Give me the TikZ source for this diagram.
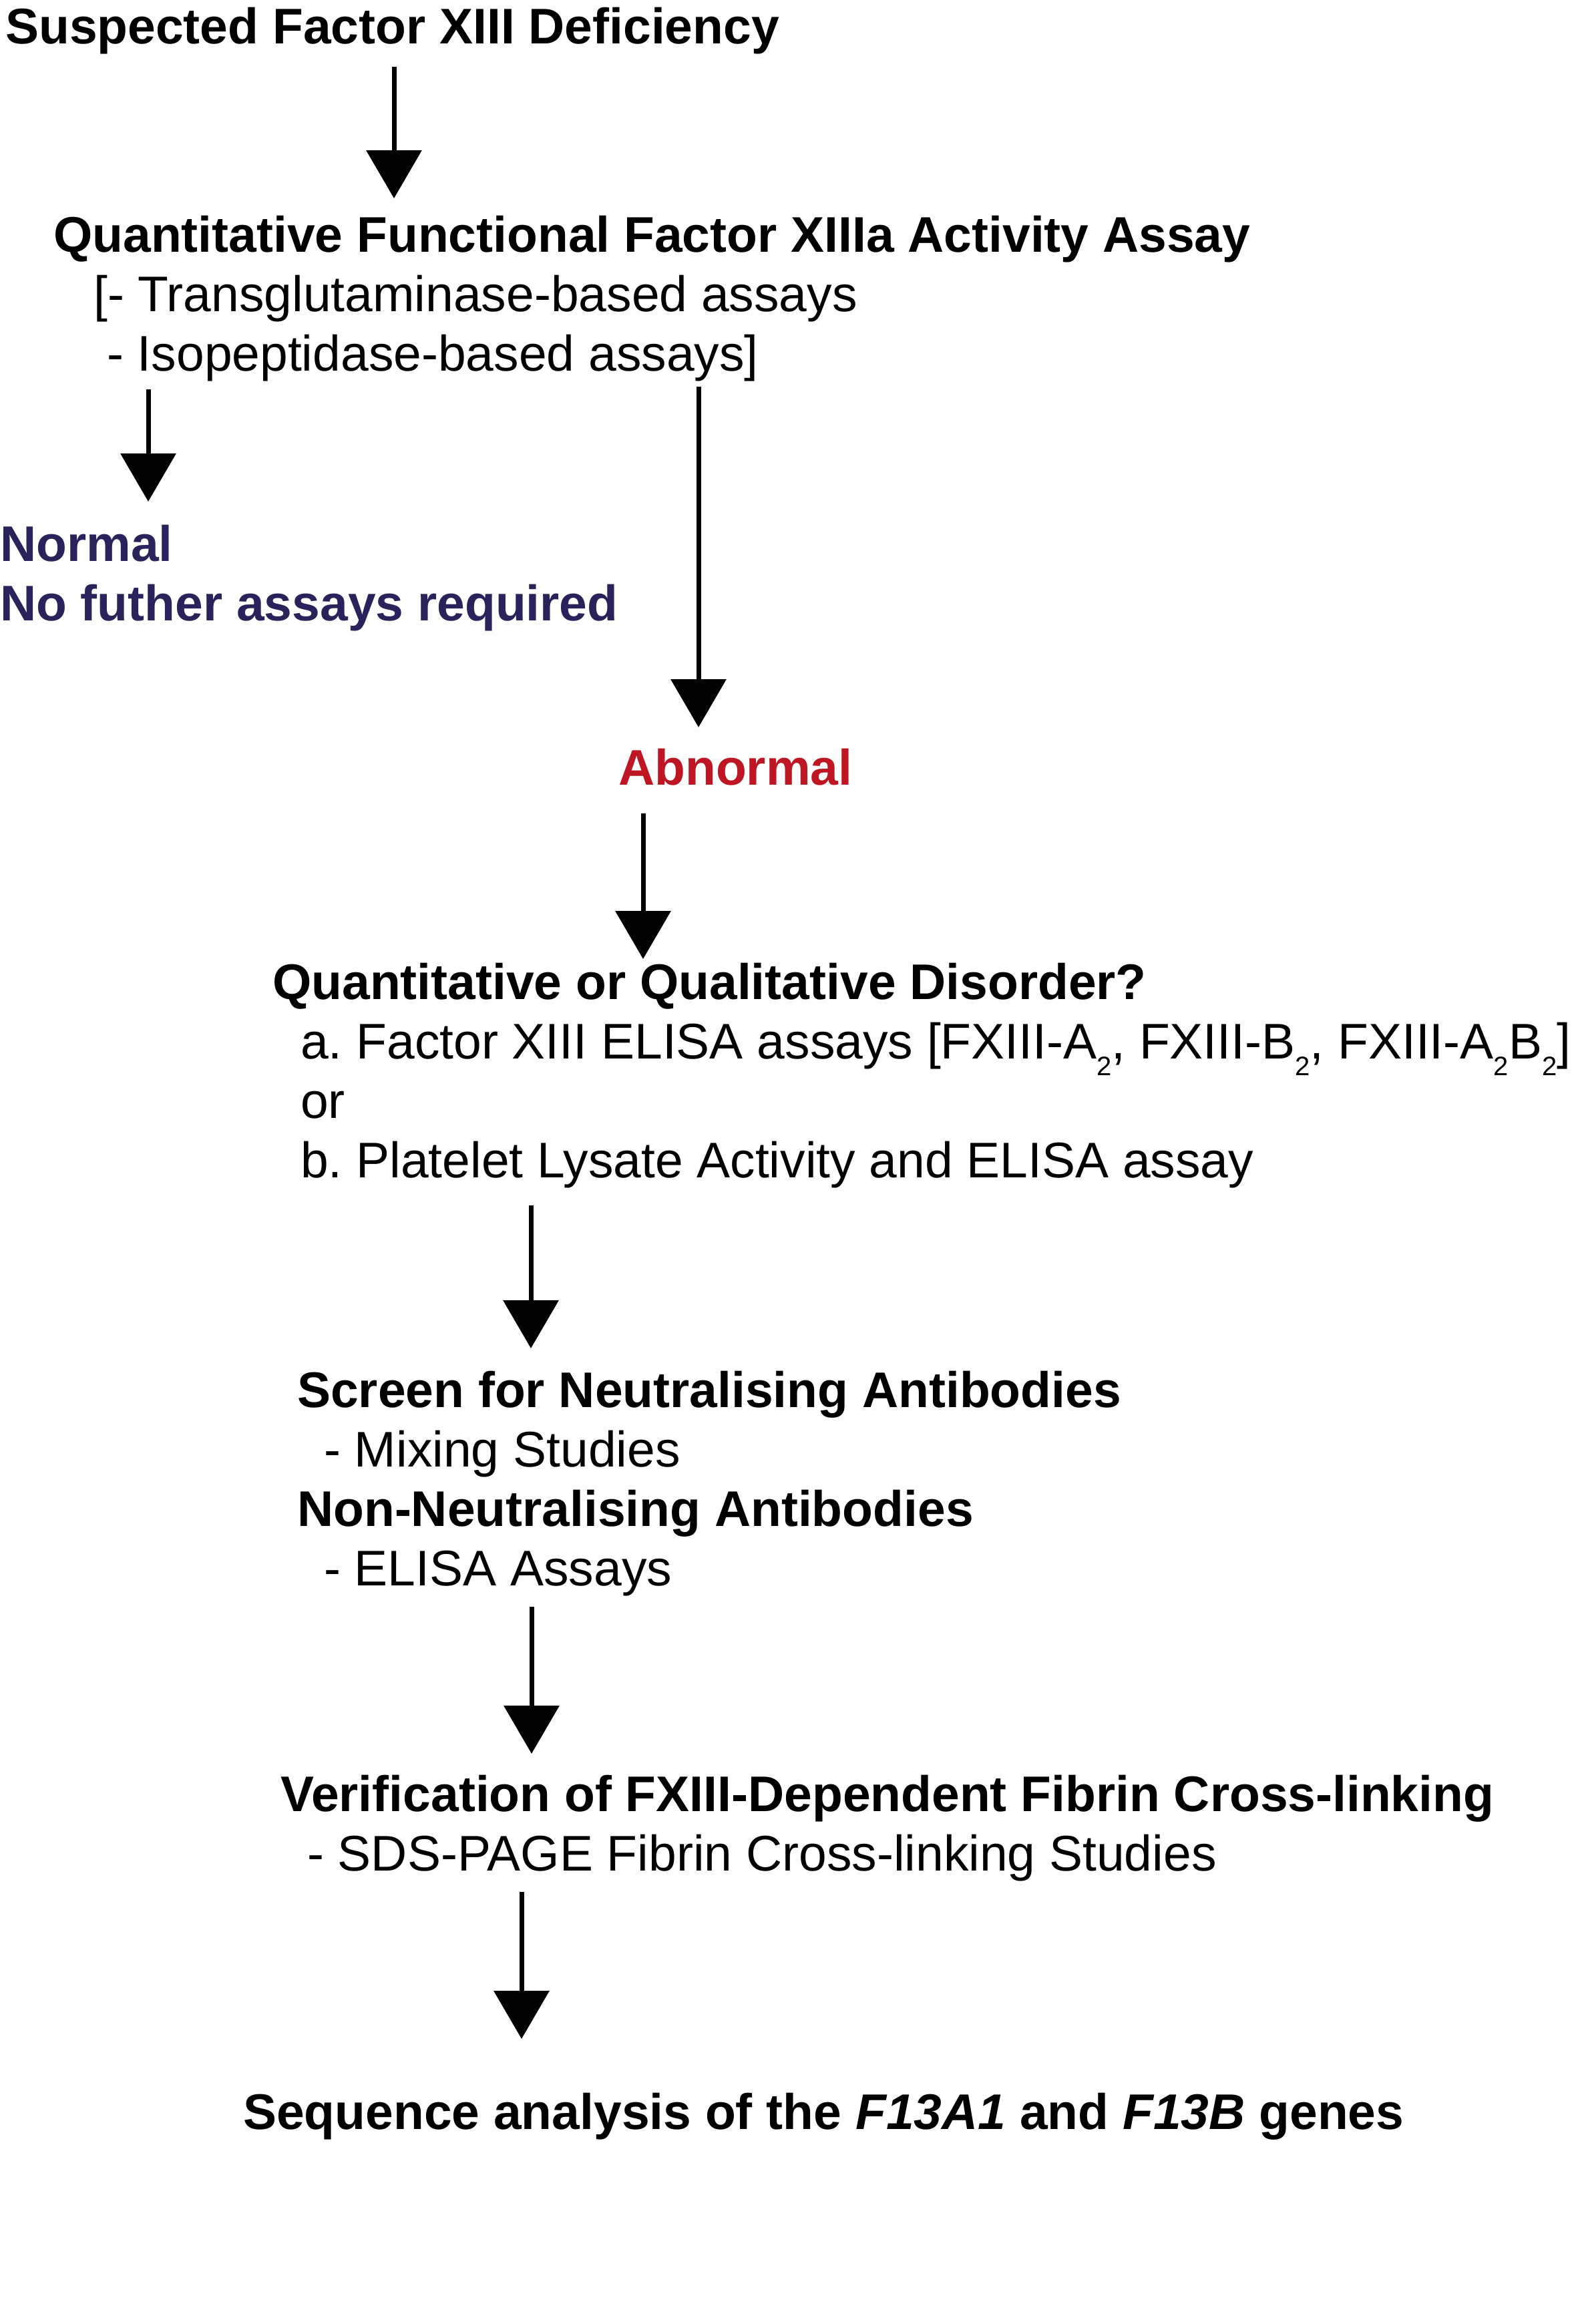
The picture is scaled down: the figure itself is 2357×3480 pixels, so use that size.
\documentclass[tikz,border=0pt]{standalone}
\usepackage{fontspec}
\setmainfont{Liberation Sans}
\usetikzlibrary{arrows.meta}
\definecolor{navy}{HTML}{29235C}
\definecolor{darkred}{HTML}{BE1622}
\newcommand\sbtwo{\raisebox{-25pt}{\fontsize{40}{40}\selectfont 2}}
\frenchspacing
\begin{document}
\begin{tikzpicture}[x=1pt,y=-1pt,
  txt/.style={anchor=base west,inner sep=0pt,font=\fontsize{75}{90}\selectfont},
  btxt/.style={txt,font=\fontsize{75}{90}\selectfont\bfseries},
  arr/.style={line width=7pt,-{Triangle[width=82pt,length=72pt]}}]
\fill[white] (0,0) rectangle (2357,3480);
\useasboundingbox (0,0) rectangle (2357,3480);
\node[btxt] (t1) at (8,65) {Suspected Factor XIII Deficiency};
\node[btxt] (t2) at (80,377) {Quantitative Functional Factor XIIIa Activity Assay};
\node[txt] (t3) at (140,466) {[- Transglutaminase-based assays};
\node[txt] (t4) at (160,555) {- Isopeptidase-based assays]};
\node[btxt,text=navy] (n1) at (0,840) {Normal};
\node[btxt,text=navy] (n2) at (0,929) {No futher assays required};
\node[btxt,text=darkred] (ab) at (926,1175) {Abnormal};
\node[btxt] (q1) at (408,1496) {Quantitative or Qualitative Disorder?};
\node[txt] (q2) at (450,1585) {a. Factor XIII ELISA assays [FXIII-A\sbtwo, FXIII-B\sbtwo, FXIII-A\sbtwo B\sbtwo]};
\node[txt] (q3) at (450,1674) {or};
\node[txt] (q4) at (450,1763) {b. Platelet Lysate Activity and ELISA assay};
\node[btxt] (s1) at (445,2107) {Screen for Neutralising Antibodies};
\node[txt] (s2) at (485,2196) {- Mixing Studies};
\node[btxt] (s3) at (445,2285) {Non-Neutralising Antibodies};
\node[txt] (s4) at (485,2374) {- ELISA Assays};
\node[btxt] (v1) at (420,2712) {Verification of FXIII-Dependent Fibrin Cross-linking};
\node[txt] (v2) at (460,2801) {- SDS-PAGE Fibrin Cross-linking Studies};
\node[btxt] (g1) at (364,3188) {Sequence analysis of the \textit{F13A1} and \textit{F13B} genes};
\draw[arr] ([shift={(582,35)}]t1.base west) -- ([shift={(510,-80)}]t2.base west);
\draw[arr] ([shift={(62,28)}]t4.base west) -- ([shift={(222,-89)}]n1.base west);
\draw[arr] ([shift={(886,24)}]t4.base west) -- ([shift={(120,-86)}]ab.base west);
\draw[arr] ([shift={(37,43)}]ab.base west) -- ([shift={(555,-60)}]q1.base west);
\draw[arr] ([shift={(345,42)}]q4.base west) -- ([shift={(350,-88)}]s1.base west);
\draw[arr] ([shift={(311,32)}]s4.base west) -- ([shift={(376,-86)}]v1.base west);
\draw[arr] ([shift={(321,32)}]v2.base west) -- ([shift={(417,-135)}]g1.base west);
\end{tikzpicture}
\end{document}
